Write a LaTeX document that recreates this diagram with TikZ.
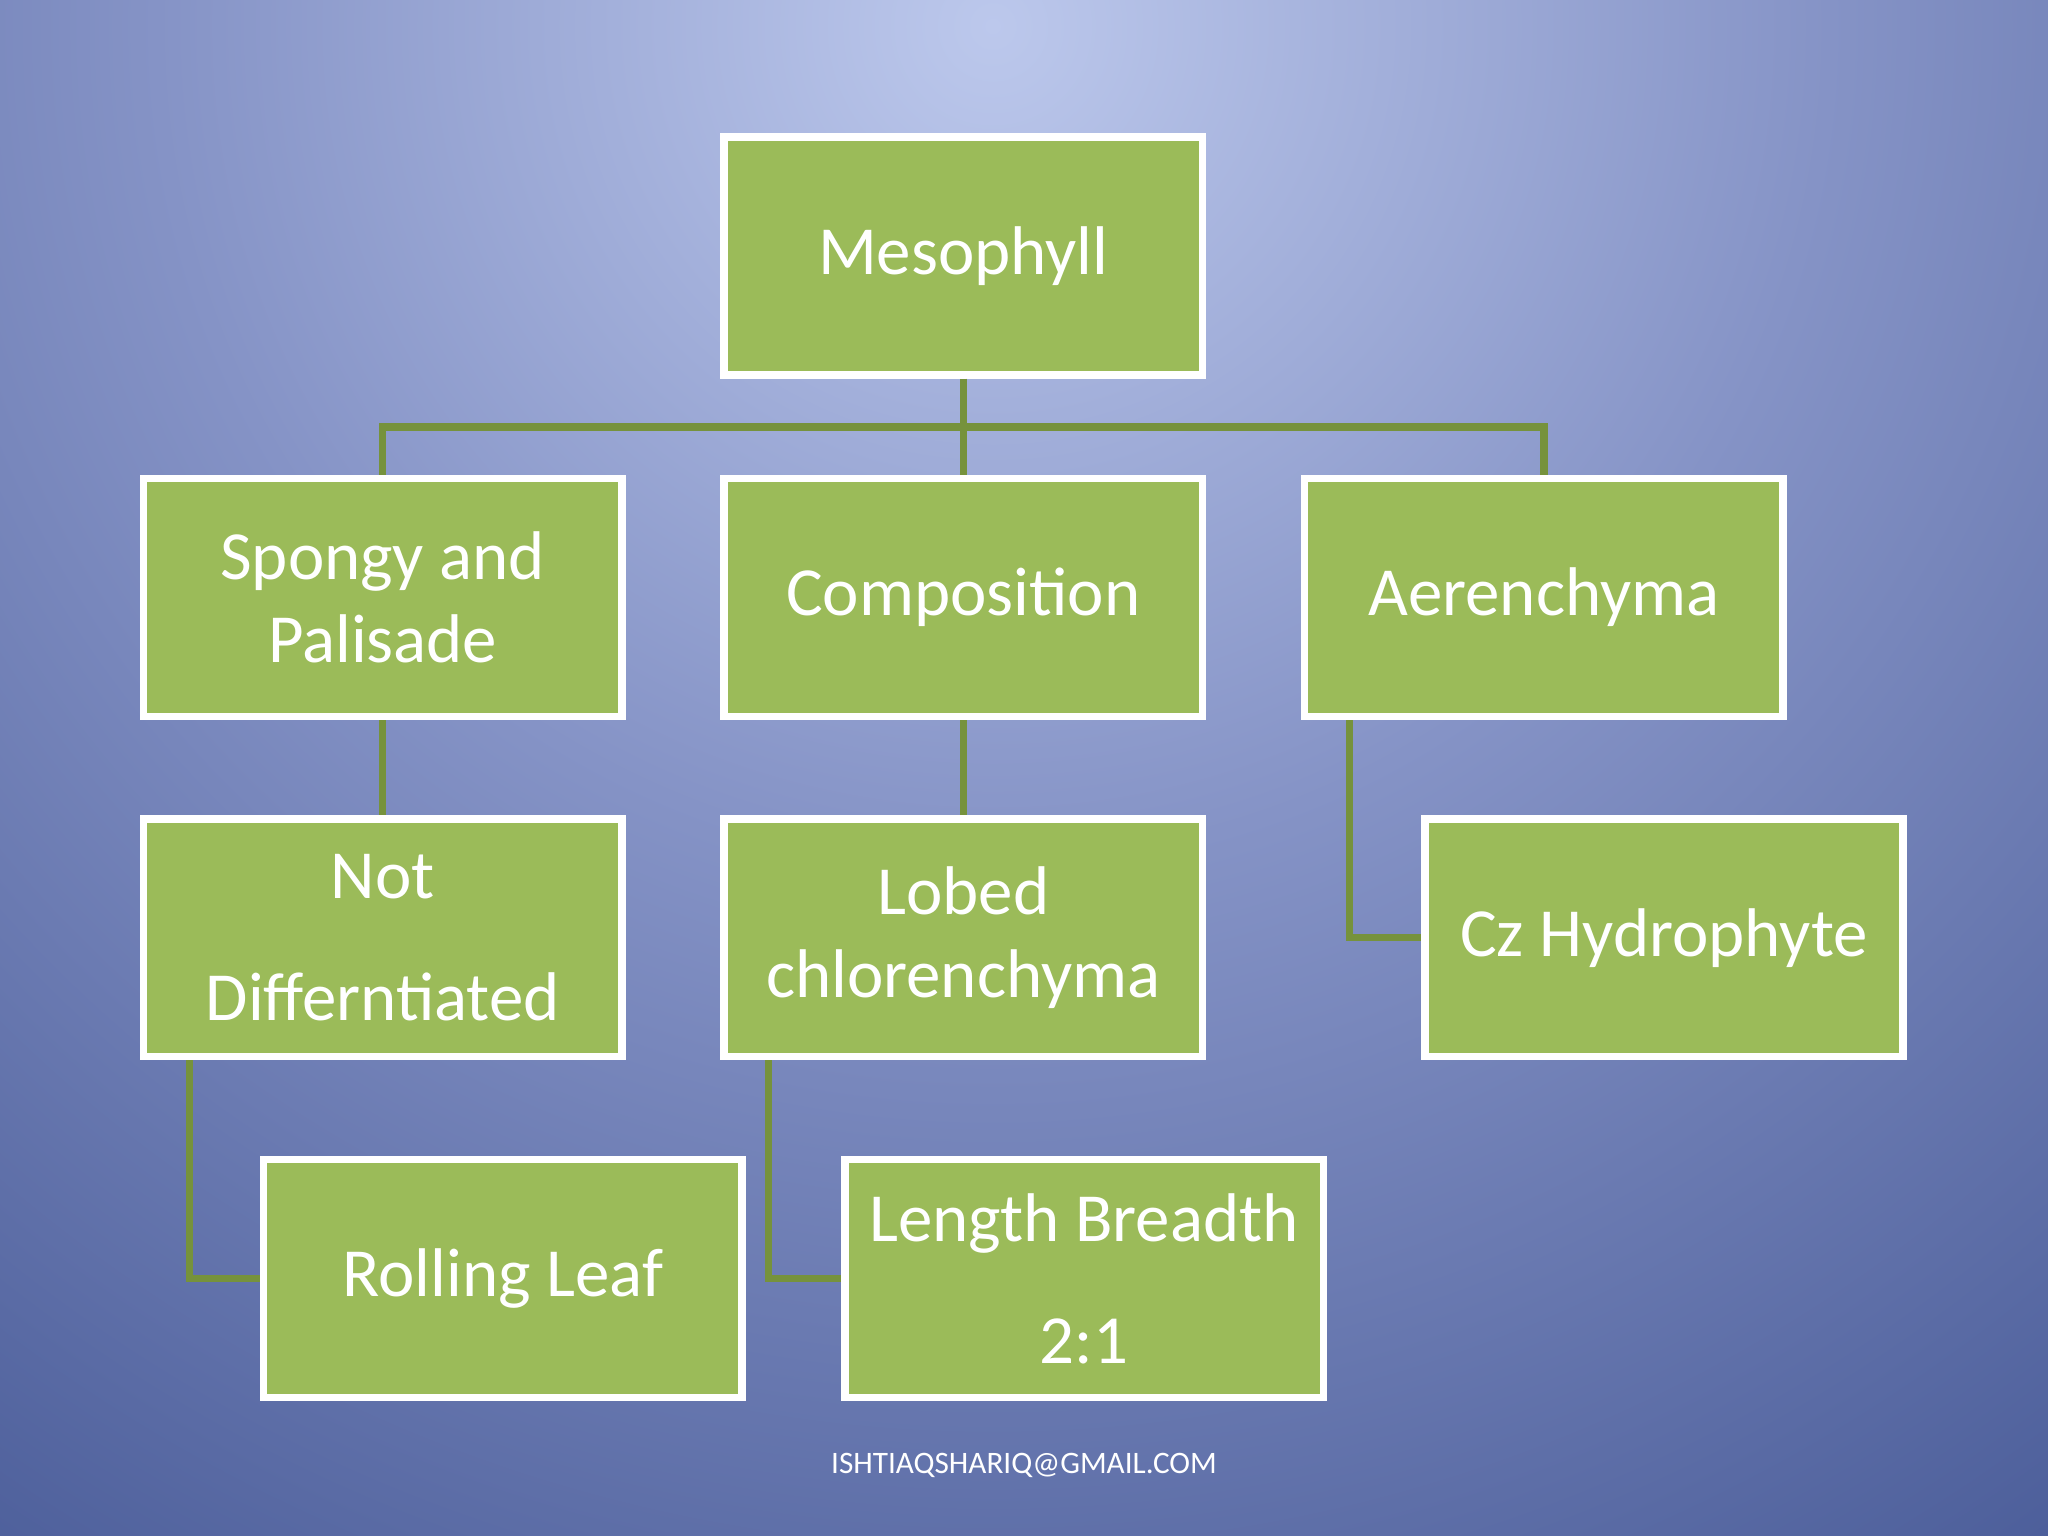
\documentclass[tikz,border=0pt]{standalone}
\usepackage{fontspec}
\setmainfont{Carlito}
\definecolor{boxg}{HTML}{9BBB59}
\definecolor{lineg}{HTML}{76923C}
\definecolor{bgA}{HTML}{BCC8EC}
\definecolor{bgB}{HTML}{8593C6}
\definecolor{bgC}{HTML}{3F5290}
\definecolor{bgD}{HTML}{1E2B66}
\pgfdeclareradialshading{bgshade}{\pgfpoint{0bp}{0bp}}{color(0bp)=(bgA); color(8bp)=(bgB); color(20bp)=(bgC); color(32bp)=(bgD); color(50bp)=(bgD)}
\begin{document}
\begin{tikzpicture}[x=0.01cm,y=-0.01cm,
  bx/.style={draw=white,line width=1.6pt,fill=boxg,text=white,minimum width=3.66cm,minimum height=1.82cm,inner sep=0pt,align=center,font=\fontsize{15pt}{18pt}\selectfont},
  cn/.style={draw=lineg,line width=1.6pt}]
\useasboundingbox (0,0) rectangle (1568,1176);
\begin{scope}
\clip (0,0) rectangle (1568,1176);
\shade[shading=bgshade] (760,20) circle (2000);
\end{scope}
\node[bx] (m) at (737.5,196) {Mesophyll};
\node[bx] (s) at (293,457.5) {Spongy and\\Palisade};
\node[bx] (c) at (737.5,457.5) {Composition};
\node[bx] (a) at (1182,457.5) {Aerenchyma};
\node[bx] (n) at (293,718) {Not\\[0.3cm]Differntiated};
\node[bx] (l) at (737.5,718) {Lobed\\chlorenchyma};
\node[bx] (h) at (1274,718) {Cz Hydrophyte};
\node[bx] (r) at (385,979) {Rolling Leaf};
\node[bx] (b) at (830,979) {Length Breadth\\[0.3cm]2:1};
\coordinate (j) at (737.5,327);
\draw[cn] (m.south) -- (j);
\draw[cn] (s.north) |- (j) -| (a.north);
\draw[cn] (j) -- (c.north);
\draw[cn] (s.south) -- (n.north);
\draw[cn] (c.south) -- (l.north);
\draw[cn] ([xshift=0.37cm]a.south west) |- (h.west);
\draw[cn] ([xshift=0.38cm]n.south west) |- (r.west);
\draw[cn] ([xshift=0.37cm]l.south west) |- (b.west);
\node[text=white,font=\fontsize{6.8pt}{8pt}\selectfont] (e) at (784,1122) {ISHTIAQSHARIQ@GMAIL.COM};
\end{tikzpicture}
\end{document}
